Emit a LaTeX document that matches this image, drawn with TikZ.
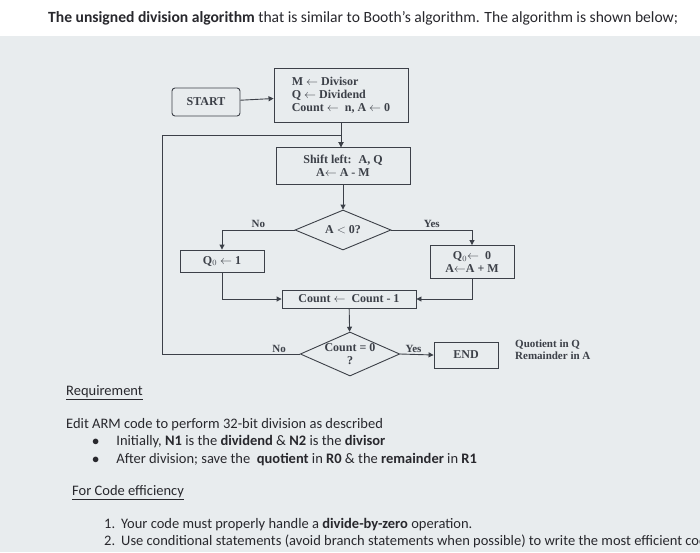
\documentclass[tikz,border=0pt]{standalone}
\usepackage{fontspec}
\setmainfont{Carlito}
\newfontfamily\serifb{Liberation Serif}
\usetikzlibrary{shapes.geometric,arrows.meta}
\definecolor{bg}{RGB}{232,236,238}
\definecolor{ink}{RGB}{60,64,72}
\definecolor{txt}{RGB}{40,40,45}
\begin{document}
\begin{tikzpicture}[x=1pt,y=-1pt,
  fc/.style={draw=ink,line width=0.9pt,font=\serifb\bfseries\fontsize{12}{13}\selectfont,text=ink,inner sep=0pt},
  box/.style={fc,rectangle},
  dia/.style={fc,diamond,aspect=2.3},
  conn/.style={draw=ink,line width=0.9pt,-{Triangle[length=5pt,width=5pt]}},
  lbl/.style={font=\serifb\bfseries\fontsize{11}{12}\selectfont,text=ink,inner sep=0pt},
  body/.style={anchor=west,font=\fontsize{14.5}{16}\selectfont,text=txt,inner sep=0pt}]
\useasboundingbox (0,0) rectangle (700,552);
\clip (0,0) rectangle (700,552);
\fill[bg] (0,0) rectangle (700,552);
\fill[white] (0,0) rectangle (700,36);
\node[body,font=\fontsize{15.6}{17}\selectfont] (title) at (48,18) {\textbf{The unsigned division algorithm} that is similar to Booth's algorithm. The algorithm is shown below;};
% flowchart
\node[box,rounded corners=3pt,minimum width=68pt,minimum height=28pt] (start) at (206,102) {START};
\node[box,minimum width=134pt,minimum height=54pt,align=left] (init) at (341,95) {M $\leftarrow$ Divisor\\Q $\leftarrow$ Dividend\\Count $\leftarrow$ \ n, A $\leftarrow$ 0};
\node[box,minimum width=134pt,minimum height=37pt,align=center] (shift) at (343,166) {Shift left: \ A, Q\\A$\leftarrow$ A - M};
\node[dia,minimum width=96pt,minimum height=40pt] (d1) at (343,230) {A $<$ 0?};
\node[box,minimum width=84pt,minimum height=22pt] (q1) at (222,261) {Q$_0$ $\leftarrow$ 1};
\node[box,minimum width=84pt,minimum height=33pt,align=center] (q0) at (472,262) {Q$_0$$\leftarrow$ \ 0\\A$\leftarrow$A + M};
\node[box,minimum width=134pt,minimum height=18pt] (cnt) at (349,299) {Count $\leftarrow$ \ Count - 1};
\node[dia,minimum width=96pt,minimum height=44pt,align=center] (d2) at (350,354) {Count = 0\\?};
\node[box,minimum width=64pt,minimum height=26pt] (end) at (466,355) {END};
\node[lbl,align=left,anchor=west] (res) at (515,350) {Quotient in Q\\Remainder in A};
\draw[conn] (start) -- (init);
\draw[conn] (init.south) -- (shift.north -| init.south);
\draw[conn] (shift) -- (d1);
\draw[conn] (d1.west) -| node[lbl,pos=0.25,above=2pt] {No} (q1.north);
\draw[conn] (d1.east) -| node[lbl,pos=0.25,above=2pt] {Yes} (q0.north);
\draw[conn] (q1.south) |- (cnt.west);
\draw[conn] (q0.south) |- (cnt.east);
\draw[conn] (cnt) -- (d2);
\draw[conn] (d2.east) -- node[lbl,pos=0.4,above=1pt] {Yes} (end.west);
\coordinate (lp) at (162,135);
\draw[conn] (d2.west) -- node[lbl,pos=0.15,above=1pt] {No} (162,354) -- (lp) -- (lp -| init.south) -- (shift.north -| init.south);
% text
\node[body] (req) at (66,393) {\underline{Requirement}};
\node[body] (edit) at (66,425) {Edit ARM code to perform 32-bit division as described};
\node[body] (b1) at (92,442) {$\bullet$\hspace{17pt}Initially, \textbf{N1} is the \textbf{dividend} \& \textbf{N2} is the \textbf{divisor}};
\node[body] (b2) at (92,460) {$\bullet$\hspace{17pt}After division; save the \ \textbf{quotient} in \textbf{R0} \& the \textbf{remainder} in \textbf{R1}};
\node[body] (eff) at (72,493) {\underline{For Code efficiency}};
\node[body] (n1) at (104,525) {1.\hspace{6pt}Your code must properly handle a \textbf{divide-by-zero} operation.};
\node[body] (n2) at (104,541) {2.\hspace{6pt}Use conditional statements (avoid branch statements when possible) to write the most efficient code};
\end{tikzpicture}
\end{document}
